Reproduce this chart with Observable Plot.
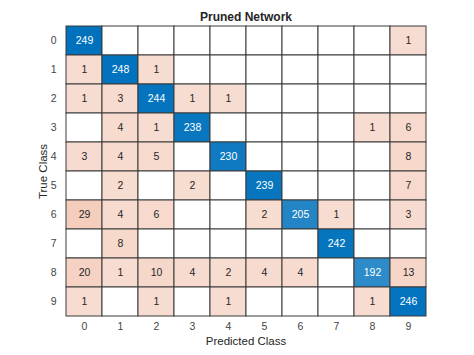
<!DOCTYPE html>
<html>
<head>
<meta charset="utf-8">
<script src="https://cdn.jsdelivr.net/npm/d3@7"></script>
<script src="https://cdn.jsdelivr.net/npm/@observablehq/plot@0.6"></script>
<style>
  html, body { margin: 0; padding: 0; background: #fff; }
</style>
</head>
<body>
<div id="chart"></div>
<script>
const title = "Pruned Network";
const xLabel = "Predicted Class";
const yLabel = "True Class";
const classes = ["0","1","2","3","4","5","6","7","8","9"];
// rows: true class, columns: predicted class
const counts = [
  [249,   0,   0,   0,   0,   0,   0,   0,   0,   1],
  [  1, 248,   1,   0,   0,   0,   0,   0,   0,   0],
  [  1,   3, 244,   1,   1,   0,   0,   0,   0,   0],
  [  0,   4,   1, 238,   0,   0,   0,   0,   1,   6],
  [  3,   4,   5,   0, 230,   0,   0,   0,   0,   8],
  [  0,   2,   0,   2,   0, 239,   0,   0,   0,   7],
  [ 29,   4,   6,   0,   0,   2, 205,   1,   0,   3],
  [  0,   8,   0,   0,   0,   0,   0, 242,   0,   0],
  [ 20,   1,  10,   4,   2,   4,   4,   0, 192,  13],
  [  1,   0,   1,   0,   1,   0,   0,   0,   1, 246]
];

const data = [];
classes.forEach((t, i) => classes.forEach((p, j) => data.push({t, p, v: counts[i][j], diag: i === j})));

const diagMax = d3.max(data.filter(d => d.diag), d => d.v);
const offMax = d3.max(data.filter(d => !d.diag), d => d.v);
const diagInterp = d3.interpolateRgb("#ffffff", "#0072bd");
const offInterp = d3.interpolateRgb("#ffffff", "#d95319");
const offT = d3.scaleLinear().domain([1, offMax]).range([0.2, 0.29]);
function cellFill(d) {
  if (d.v === 0) return "#ffffff";
  if (d.diag) return diagInterp(Math.pow(d.v / diagMax, 0.75));
  return offInterp(offT(d.v));
}

const chart = Plot.plot({
  width: 474,
  height: 355,
  marginLeft: 61,
  marginRight: 44,
  marginTop: 26,
  marginBottom: 39,
  style: {fontFamily: "'Liberation Sans', Arial, sans-serif", fontSize: "10px", color: "#444", background: "#fff"},
  x: {type: "band", domain: classes, padding: 0},
  y: {type: "band", domain: classes, padding: 0},
  marks: [
    Plot.cell(data, {x: "p", y: "t", fill: cellFill, stroke: "#3a3a3a", strokeWidth: 1, inset: 0}),
    Plot.text(data.filter(d => d.v > 0), {x: "p", y: "t", text: d => String(d.v), fill: d => d.diag ? "#ffffff" : "#262626", fontSize: 10.5}),
    Plot.axisX({tickSize: 0, tickPadding: 6, label: null, fontSize: 10.5}),
    Plot.axisY({tickSize: 0, tickPadding: 5, label: null, fontSize: 10.5}),
    Plot.text([xLabel], {frameAnchor: "bottom", lineAnchor: "middle", textAnchor: "middle", dy: 25, fontSize: 11.5, fill: "#262626"}),
    Plot.text([yLabel], {frameAnchor: "left", lineAnchor: "middle", textAnchor: "middle", dx: -18, rotate: -90, fontSize: 11.5, fill: "#262626"}),
    Plot.text([title], {frameAnchor: "top", lineAnchor: "middle", textAnchor: "middle", dy: -9, fontSize: 12, fontWeight: "bold", fill: "#262626"})
  ]
});
document.getElementById("chart").appendChild(chart);
</script>
</body>
</html>
